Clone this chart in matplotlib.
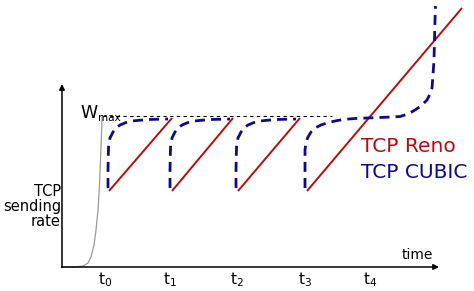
import matplotlib.pyplot as plt

plt.rcParams['font.family'] = ['DejaVu Sans']
plt.rcParams['mathtext.default'] = 'regular'

# ------------------------------
# Datos (unidades de píxel)
# ------------------------------
tick_x = [105, 170, 237, 305, 370]
tick_labels = ['t$_0$', 't$_1$', 't$_2$', 't$_3$', 't$_4$']

w_max = 116
wmax_x = [103, 332]

slow_x = [62, 75, 83, 88, 91, 94, 96, 98, 99.5, 100.5, 101.5, 102]
slow_y = [267, 267, 266, 263, 257, 245, 230, 210, 185, 160, 135, 117]

reno_x0 = [109, 172, 238, 307]
reno_x1 = [172, 233, 300, 462]
reno_y0 = [191, 191, 191, 191]
reno_y1 = [118, 118, 118, 8]

# forma de un ciclo cubic (desplazamiento desde el inicio del ciclo)
cubic_dx = [0, 0, 0.3, 0.6, 2, 5, 8, 12, 18, 24, 40, 60]
cubic_y = [188, 170, 155, 145, 138, 132, 128, 125, 122.5, 121, 119.5, 119]
cubic_start = [108, 170, 236]

last_x = [305, 305, 305, 306, 308, 311, 315, 321, 327, 335, 343, 355, 367, 380,
          392, 400, 408, 415, 421, 427, 430, 432, 433, 434, 434.5, 435, 435.5]
last_y = [188, 165, 150, 142, 137, 132, 128, 125, 123, 121, 119.5, 118.5, 118, 117.5,
          117, 116.5, 114, 110, 106, 100, 94, 88, 75, 60, 40, 20, 6]

red = '#c00a0a'
blue = '#0a0a96'

# ------------------------------
# Gráfico
# ------------------------------
fig = plt.figure(figsize=(4.74, 2.91), dpi=100)
ax = fig.add_axes([0, 0, 1, 1])
ax.set_xlim(0, 474)
ax.set_ylim(291, 0)
ax.axis('off')

# ejes con flechas
arrow = dict(arrowstyle='-|>', lw=1.1, color='black', mutation_scale=8, shrinkA=0, shrinkB=0)
ax.annotate('', xy=(439, 267), xytext=(61.5, 267), arrowprops=arrow)
ax.annotate('', xy=(62, 84), xytext=(62, 267.5), arrowprops=arrow)

# slow start y W_max
ax.plot(slow_x, slow_y, color='#9a9a9a', lw=0.9)
ax.plot(wmax_x, [w_max, w_max], color='black', lw=0.8, linestyle=(0, (3, 3)))

# TCP Reno
for x0, x1, y0, y1 in zip(reno_x0, reno_x1, reno_y0, reno_y1):
    ax.plot([x0, x1], [y0, y1], color=red, lw=1.4, solid_capstyle='butt')

# TCP CUBIC
dash = (0, (3.6, 2.2))
for s in cubic_start:
    ax.plot([s + d for d in cubic_dx], cubic_y, color=blue, lw=2.0, linestyle=dash)
ax.plot(last_x, last_y, color=blue, lw=2.0, linestyle=dash)

# textos
for x, lab in zip(tick_x, tick_labels):
    ax.text(x, 280, lab, ha='center', va='center', fontsize=11)
ax.text(98, 113, 'W', ha='right', va='center', fontsize=12.5)
ax.text(98, 118, 'max', ha='left', va='center', fontsize=7.5)
ax.text(61, 207, 'TCP\nsending\nrate', ha='right', va='center', fontsize=10.5,
        multialignment='right', linespacing=1.0)
ax.text(402, 255, 'time', ha='left', va='center', fontsize=10)
ax.text(361, 147, 'TCP Reno', ha='left', va='center', fontsize=14.5, color=red)
ax.text(361, 173, 'TCP CUBIC', ha='left', va='center', fontsize=14.5, color=blue)

fig.savefig('out.png', dpi=100)
